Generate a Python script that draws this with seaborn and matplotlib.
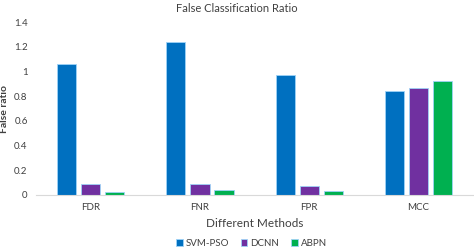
import matplotlib
matplotlib.use("Agg")
import matplotlib.pyplot as plt
import seaborn as sns
import pandas as pd

categories = ["FDR", "FNR", "FPR", "MCC"]
series = ["SVM-PSO", "DCNN", "ABPN"]
svm_pso = [1.06, 1.24, 0.97, 0.84]
dcnn = [0.087, 0.089, 0.075, 0.866]
abpn = [0.024, 0.04, 0.032, 0.925]
colors = ["#0070C0", "#7030A0", "#00B050"]

rows = []
for name, vals in zip(series, [svm_pso, dcnn, abpn]):
    for c, v in zip(categories, vals):
        rows.append({"Method": c, "Series": name, "Value": v})
df = pd.DataFrame(rows)

sns.set_theme(style="white")
plt.rcParams["font.family"] = ["Lato", "DejaVu Sans"]

fig = plt.figure(figsize=(4.74, 2.48), dpi=100)
ax = fig.add_axes([0.076, 0.214, 0.922, 0.697])
sns.barplot(data=df, x="Method", y="Value", hue="Series", order=categories,
            hue_order=series, palette=colors, saturation=1, width=0.66, gap=0.2,
            edgecolor="#9fd3f7", linewidth=0.6, ax=ax, legend=True)

ax.set_ylim(0, 1.4)
ax.set_xlim(-0.5, 3.5)
ax.set_yticks([0, 0.2, 0.4, 0.6, 0.8, 1.0, 1.2, 1.4])
ax.set_yticklabels(["0", "0.2", "0.4", "0.6", "0.8", "1", "1.2", "1.4"])
ax.tick_params(axis="both", length=0, labelsize=7, colors="#404040", pad=6)
for s in ["top", "right", "left"]:
    ax.spines[s].set_visible(False)
ax.spines["bottom"].set_color("#d9d9d9")
ax.spines["bottom"].set_linewidth(0.8)
ax.grid(False)

ax.set_xlabel("Different Methods", fontsize=8.5, color="#404040", labelpad=4)
ax.set_ylabel("False ratio", fontsize=7.5, color="#404040", fontweight="bold")
ax.yaxis.set_label_coords(-0.062, 0.5)
fig.text(0.5, 0.965, "False Classification Ratio", ha="center", va="center",
         fontsize=8, color="#404040")

handles, labels = ax.get_legend_handles_labels()
ax.get_legend().remove()
fig.legend(handles, labels, loc="lower center", bbox_to_anchor=(0.53, -0.035), ncol=3,
           frameon=False, fontsize=7, handlelength=0.7, handleheight=0.7,
           columnspacing=1.2, handletextpad=0.3, labelcolor="#404040")

fig.savefig("out.png", dpi=100)
